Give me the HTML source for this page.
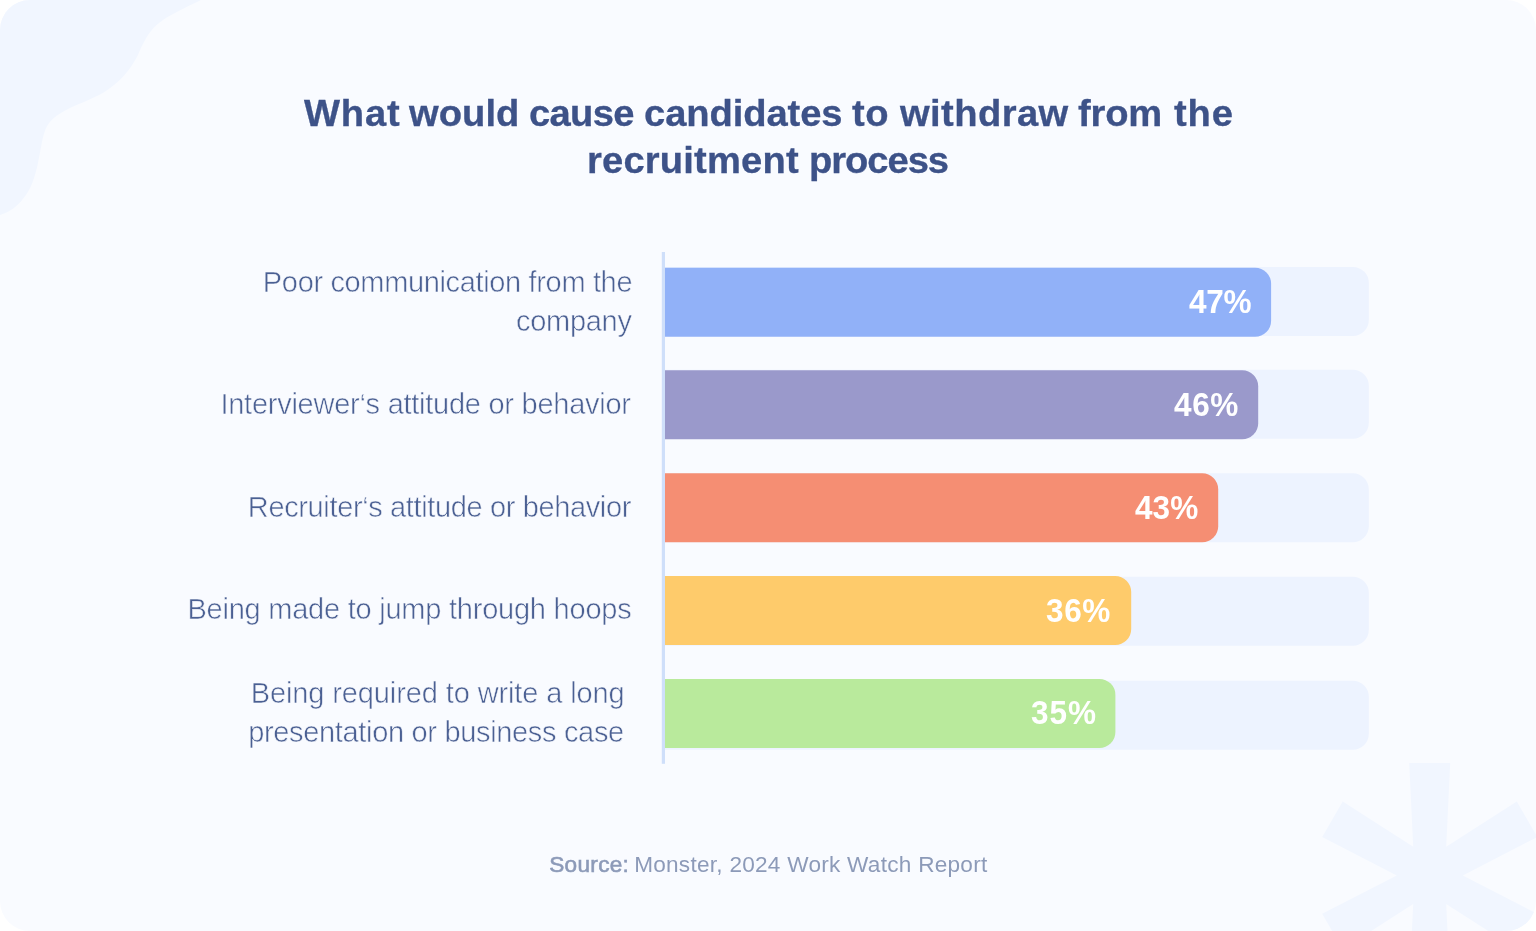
<!DOCTYPE html>
<html lang="en">
<head>
<meta charset="utf-8">
<title>What would cause candidates to withdraw from the recruitment process</title>
<style>
:root{--bg:#f9fbff}
*{box-sizing:border-box;margin:0;padding:0}
html,body{width:1536px;height:931px;background:#fff;overflow:hidden}
body{font-family:"Liberation Sans",sans-serif;position:relative}
.card{position:absolute;left:0;top:0;width:1536px;height:931px;background:var(--bg);border-radius:30px;overflow:hidden}
svg{position:absolute;left:0;top:0;width:1536px;height:931px}
h1,p,.pct{font-size:0;line-height:0}
.t{position:absolute;white-space:nowrap;line-height:40px;height:40px}
.title .t{font-size:36.5px;font-weight:700;color:#3d5288;-webkit-text-stroke:0.3px currentColor;transform:scaleX(1.045);transform-origin:0 0}
.lab .t{font-size:29px;font-weight:400;color:#4b6093;-webkit-text-stroke:0.55px var(--bg)}
.src .t{font-size:22.6px;font-weight:400;color:#8c9ab8}
.src .t.k{-webkit-text-stroke:0.6px currentColor}
.pct .t{font-size:32.5px;font-weight:700;color:#fff;transform:scaleX(0.97);transform-origin:0 0}
</style>
</head>
<body>
<div class="card">
<svg viewBox="0 0 1536 931" aria-hidden="true">
<path d="M0 0 H200.9 C193.8 3.5 185.9 7.2 179.6 10.6 C173.3 13.9 167.7 16.8 163.0 20.1 C158.3 23.5 154.5 26.8 151.2 30.7 C147.9 34.6 145.4 39.4 143.0 43.7 C140.6 48.0 139.4 52.4 137.0 56.7 C134.6 61.0 132.0 65.6 128.8 69.7 C125.7 73.8 122.2 77.8 118.1 81.5 C114.0 85.2 109.1 89.0 104.0 92.2 C98.9 95.4 92.9 97.9 87.4 100.4 C81.9 103.0 76.0 104.9 70.9 107.5 C65.8 110.1 60.5 113.0 56.7 115.8 C53.0 118.6 50.6 120.9 48.4 124.1 C46.2 127.2 45.1 130.2 43.7 134.7 C42.3 139.2 41.4 145.5 40.2 151.2 C39.0 156.9 38.2 163.1 36.6 169.0 C35.0 174.9 33.2 181.4 30.7 186.7 C28.1 192.0 24.7 197.0 21.3 200.9 C17.9 204.8 14.2 208.0 10.6 210.3 C7.0 212.7 3.5 213.4 0.0 215.0 Z" fill="#f1f6ff"/>
<path d="M1446.2 846.8 L1450.2 763.1 L1409.2 763.1 L1413.2 846.8 L1342.7 801.5 L1322.2 837.0 L1396.8 875.4 L1322.2 913.8 L1342.7 949.3 L1413.2 904.0 L1409.2 987.7 L1450.2 987.7 L1446.2 904.0 L1516.8 949.3 L1537.3 913.8 L1462.8 875.4 L1537.3 837.0 L1516.8 801.5 Z" fill="#f1f6ff"/>
<path d="M665 266.9 H1352.8 A16 16 0 0 1 1368.8 282.9 V319.9 A16 16 0 0 1 1352.8 335.9 H665 Z" fill="#edf3ff"/>
<path d="M665 369.7 H1352.8 A16 16 0 0 1 1368.8 385.7 V422.7 A16 16 0 0 1 1352.8 438.7 H665 Z" fill="#edf3ff"/>
<path d="M665 473.3 H1352.8 A16 16 0 0 1 1368.8 489.3 V526.3 A16 16 0 0 1 1352.8 542.3 H665 Z" fill="#edf3ff"/>
<path d="M665 576.7 H1352.8 A16 16 0 0 1 1368.8 592.7 V629.7 A16 16 0 0 1 1352.8 645.7 H665 Z" fill="#edf3ff"/>
<path d="M665 680.7 H1352.8 A16 16 0 0 1 1368.8 696.7 V733.7 A16 16 0 0 1 1352.8 749.7 H665 Z" fill="#edf3ff"/>
<path d="M665 267.75 H1255.1 A16 16 0 0 1 1271.1 283.75 V320.75 A16 16 0 0 1 1255.1 336.75 H665 Z" fill="#91b1f8"/>
<path d="M665 370.2 H1242.2 A16 16 0 0 1 1258.2 386.2 V423.2 A16 16 0 0 1 1242.2 439.2 H665 Z" fill="#9a99cb"/>
<path d="M665 473.2 H1202.2 A16 16 0 0 1 1218.2 489.2 V526.2 A16 16 0 0 1 1202.2 542.2 H665 Z" fill="#f58e73"/>
<path d="M665 576 H1115.2 A16 16 0 0 1 1131.2 592 V629 A16 16 0 0 1 1115.2 645 H665 Z" fill="#fecb6b"/>
<path d="M665 678.9 H1099.4 A16 16 0 0 1 1115.4 694.9 V731.9 A16 16 0 0 1 1099.4 747.9 H665 Z" fill="#b9ea9c"/>
<rect x="661.8" y="252" width="3.2" height="511.8" fill="#cfdffa"/>
</svg>
<h1 class="title"><span class="t" id="t1a" style="left:303.76px;top:94px;letter-spacing:0.79px">What</span> <span class="t" id="t1b" style="left:409.21px;top:94px;letter-spacing:0.06px">would</span> <span class="t" id="t1c" style="left:529.00px;top:94px;letter-spacing:-0.64px">cause</span> <span class="t" id="t1d" style="left:643.80px;top:94px;letter-spacing:-0.08px">candidates</span> <span class="t" id="t1e" style="left:852.20px;top:94px;letter-spacing:0.58px">to</span> <span class="t" id="t1f" style="left:899.61px;top:94px;letter-spacing:0.41px">withdraw</span> <span class="t" id="t1g" style="left:1078.40px;top:94px;letter-spacing:-0.16px">from</span> <span class="t" id="t1h" style="left:1174.20px;top:94px;letter-spacing:0.79px">the</span> <span class="t" id="t2a" style="left:586.60px;top:141px;letter-spacing:0.17px">recruitment</span> <span class="t" id="t2b" style="left:809.20px;top:141px;letter-spacing:-1.00px">process</span></h1>
<p class="lab"><span class="t" id="l1a" style="left:262.86px;top:262px;letter-spacing:-0.35px">Poor communication from the</span> <span class="t" id="l1b" style="left:516.08px;top:301px;letter-spacing:-0.31px">company</span></p>
<p class="lab"><span class="t" id="l2" style="left:220.46px;top:384px;letter-spacing:-0.26px">Interviewer‘s attitude or behavior</span></p>
<p class="lab"><span class="t" id="l3" style="left:247.86px;top:487px;letter-spacing:-0.37px">Recruiter‘s attitude or behavior</span></p>
<p class="lab"><span class="t" id="l4" style="left:187.42px;top:589px;letter-spacing:-0.23px">Being made to jump through hoops</span></p>
<p class="lab"><span class="t" id="l5a" style="left:250.71px;top:673px;letter-spacing:-0.11px">Being required to write a long</span> <span class="t" id="l5b" style="left:248.17px;top:712px;letter-spacing:-0.33px">presentation or business case</span></p>
<div class="pct"><span class="t" id="p1" style="left:1188.80px;top:282px;letter-spacing:-0.34px">47%</span></div>
<div class="pct"><span class="t" id="p2" style="left:1174.00px;top:385px;letter-spacing:0.64px">46%</span></div>
<div class="pct"><span class="t" id="p3" style="left:1134.80px;top:488px;letter-spacing:0.09px">43%</span></div>
<div class="pct"><span class="t" id="p4" style="left:1046.43px;top:591px;letter-spacing:0.62px">36%</span></div>
<div class="pct"><span class="t" id="p5" style="left:1031.03px;top:693px;letter-spacing:1.05px">35%</span></div>
<p class="src"><span class="t k" id="s1" style="left:549.18px;top:845px;letter-spacing:0.31px">Source:</span> <span class="t" id="s2" style="left:634.14px;top:845px;letter-spacing:0.26px">Monster, 2024 Work Watch Report</span></p>
</div>
</body>
</html>
